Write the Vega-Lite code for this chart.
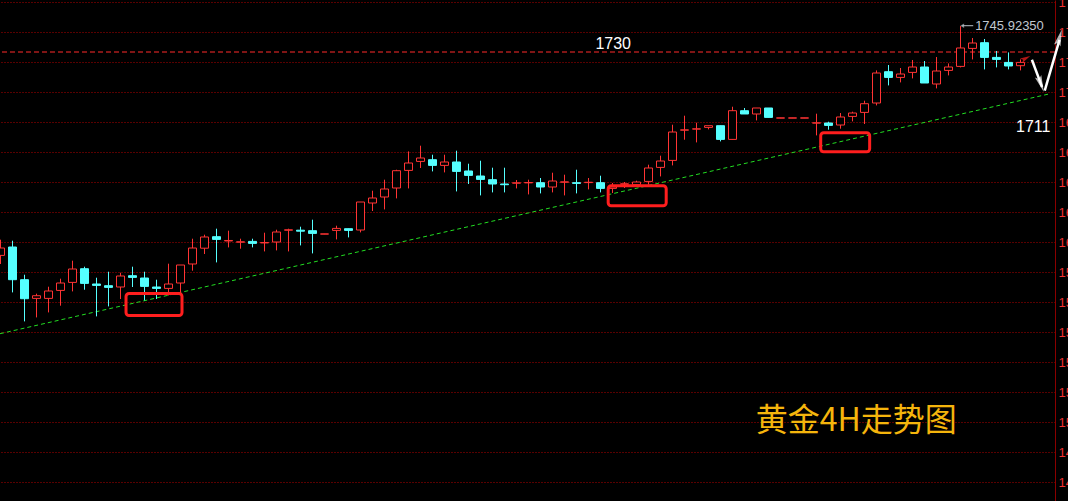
{
 "$schema": "https://vega.github.io/schema/vega-lite/v6.json",
 "width": 1055, "height": 501,
 "autosize": {"type": "none"},
 "padding": {"left": 0, "top": 0, "right": 13, "bottom": 0},
 "background": "#000000",
 "config": {"view": {"stroke": null}, "axis": {"title": null}, "scale": {"continuousPadding": 0}},
 "datasets": {
  "candles": [
   {"k":0,"o":1605.25,"c":1609.79,"h":1614.88,"l":1599.98,"d":"u"},
   {"k":1,"o":1610.40,"c":1590.35,"h":1614.27,"l":1582.56,"d":"d"},
   {"k":2,"o":1590.35,"c":1578.69,"h":1593.41,"l":1564.77,"d":"d"},
   {"k":3,"o":1578.88,"c":1580.53,"h":1581.76,"l":1567.22,"d":"u"},
   {"k":4,"o":1578.88,"c":1583.42,"h":1586.05,"l":1570.29,"d":"u"},
   {"k":5,"o":1583.78,"c":1588.32,"h":1590.96,"l":1574.40,"d":"u"},
   {"k":6,"o":1588.69,"c":1596.91,"h":1602.00,"l":1583.17,"d":"u"},
   {"k":7,"o":1597.09,"c":1588.08,"h":1598.32,"l":1584.21,"d":"d"},
   {"k":8,"o":1587.71,"c":1586.85,"h":1591.57,"l":1567.84,"d":"d"},
   {"k":9,"o":1586.67,"c":1585.63,"h":1595.25,"l":1573.97,"d":"d"},
   {"k":10,"o":1585.87,"c":1592.62,"h":1594.64,"l":1578.51,"d":"u"},
   {"k":11,"o":1592.80,"c":1591.76,"h":1598.32,"l":1585.87,"d":"d"},
   {"k":12,"o":1591.39,"c":1586.24,"h":1595.25,"l":1577.65,"d":"d"},
   {"k":13,"o":1585.87,"c":1585.01,"h":1590.35,"l":1578.51,"d":"d"},
   {"k":14,"o":1585.01,"c":1587.71,"h":1600.16,"l":1580.72,"d":"u"},
   {"k":15,"o":1588.32,"c":1599.36,"h":1599.36,"l":1582.19,"d":"u"},
   {"k":16,"o":1599.98,"c":1609.79,"h":1615.49,"l":1595.87,"d":"u"},
   {"k":17,"o":1609.67,"c":1616.54,"h":1617.95,"l":1606.11,"d":"u"},
   {"k":18,"o":1616.72,"c":1615.07,"h":1621.63,"l":1600.96,"d":"d"},
   {"k":19,"o":1614.10,"c":1614.40,"h":1620.40,"l":1610.16,"d":"u"},
   {"k":20,"o":1613.35,"c":1613.60,"h":1615.49,"l":1609.36,"d":"u"},
   {"k":21,"o":1613.84,"c":1612.61,"h":1615.49,"l":1610.16,"d":"d"},
   {"k":22,"o":1612.90,"c":1613.15,"h":1619.17,"l":1607.70,"d":"u"},
   {"k":23,"o":1613.47,"c":1619.60,"h":1621.01,"l":1608.32,"d":"u"},
   {"k":24,"o":1620.70,"c":1620.95,"h":1621.63,"l":1607.70,"d":"u"},
   {"k":25,"o":1620.71,"c":1620.10,"h":1622.85,"l":1611.38,"d":"d"},
   {"k":26,"o":1620.40,"c":1618.74,"h":1627.15,"l":1606.48,"d":"d"},
   {"k":27,"o":1618.30,"c":1618.45,"h":1618.45,"l":1618.30,"d":"u"},
   {"k":28,"o":1620.59,"c":1621.81,"h":1623.47,"l":1615.07,"d":"u"},
   {"k":29,"o":1621.63,"c":1620.59,"h":1621.63,"l":1616.29,"d":"d"},
   {"k":30,"o":1620.83,"c":1638.00,"h":1638.00,"l":1619.36,"d":"u"},
   {"k":31,"o":1637.39,"c":1640.46,"h":1644.93,"l":1632.48,"d":"u"},
   {"k":32,"o":1641.07,"c":1645.98,"h":1651.68,"l":1633.46,"d":"u"},
   {"k":33,"o":1646.59,"c":1657.20,"h":1657.81,"l":1640.21,"d":"u"},
   {"k":34,"o":1657.39,"c":1661.92,"h":1669.04,"l":1646.34,"d":"u"},
   {"k":35,"o":1662.90,"c":1664.99,"h":1672.53,"l":1658.86,"d":"u"},
   {"k":36,"o":1663.95,"c":1660.45,"h":1667.01,"l":1656.77,"d":"d"},
   {"k":37,"o":1660.45,"c":1662.54,"h":1667.01,"l":1656.16,"d":"u"},
   {"k":38,"o":1662.54,"c":1656.77,"h":1669.47,"l":1644.50,"d":"d"},
   {"k":39,"o":1657.02,"c":1654.32,"h":1661.49,"l":1649.04,"d":"d"},
   {"k":40,"o":1653.95,"c":1651.86,"h":1663.33,"l":1642.05,"d":"d"},
   {"k":41,"o":1651.68,"c":1649.04,"h":1659.04,"l":1643.89,"d":"d"},
   {"k":42,"o":1649.04,"c":1648.61,"h":1659.04,"l":1643.89,"d":"d"},
   {"k":43,"o":1649.55,"c":1649.75,"h":1651.50,"l":1646.34,"d":"u"},
   {"k":44,"o":1649.75,"c":1649.95,"h":1651.68,"l":1642.66,"d":"u"},
   {"k":45,"o":1649.84,"c":1647.20,"h":1652.72,"l":1643.28,"d":"d"},
   {"k":46,"o":1647.20,"c":1650.88,"h":1655.97,"l":1643.89,"d":"u"},
   {"k":47,"o":1650.15,"c":1650.35,"h":1654.75,"l":1642.05,"d":"u"},
   {"k":48,"o":1649.84,"c":1649.41,"h":1657.81,"l":1643.28,"d":"d"},
   {"k":49,"o":1649.90,"c":1650.10,"h":1652.72,"l":1645.73,"d":"u"},
   {"k":50,"o":1649.84,"c":1646.34,"h":1654.13,"l":1643.89,"d":"d"},
   {"k":51,"o":1646.34,"c":1647.20,"h":1649.66,"l":1643.52,"d":"u"},
   {"k":52,"o":1648.95,"c":1649.15,"h":1650.27,"l":1646.59,"d":"u"},
   {"k":53,"o":1648.61,"c":1650.27,"h":1651.07,"l":1647.20,"d":"u"},
   {"k":54,"o":1650.64,"c":1658.86,"h":1660.88,"l":1648.61,"d":"u"},
   {"k":55,"o":1659.23,"c":1663.15,"h":1666.40,"l":1653.70,"d":"u"},
   {"k":56,"o":1663.52,"c":1680.93,"h":1685.41,"l":1660.45,"d":"u"},
   {"k":57,"o":1682.05,"c":1682.25,"h":1690.93,"l":1676.21,"d":"u"},
   {"k":58,"o":1682.70,"c":1682.90,"h":1686.64,"l":1674.56,"d":"u"},
   {"k":59,"o":1683.76,"c":1684.80,"h":1684.80,"l":1682.53,"d":"u"},
   {"k":60,"o":1684.80,"c":1676.40,"h":1684.80,"l":1675.17,"d":"d"},
   {"k":61,"o":1676.40,"c":1694.00,"h":1696.45,"l":1676.40,"d":"u"},
   {"k":62,"o":1694.00,"c":1691.98,"h":1695.66,"l":1691.98,"d":"d"},
   {"k":63,"o":1691.98,"c":1695.66,"h":1695.66,"l":1688.05,"d":"u"},
   {"k":64,"o":1695.66,"c":1689.89,"h":1695.66,"l":1689.89,"d":"d"},
   {"k":65,"o":1689.45,"c":1689.60,"h":1689.60,"l":1689.45,"d":"u"},
   {"k":66,"o":1689.45,"c":1689.60,"h":1689.60,"l":1689.45,"d":"u"},
   {"k":67,"o":1689.45,"c":1689.60,"h":1689.60,"l":1689.45,"d":"u"},
   {"k":68,"o":1686.40,"c":1686.55,"h":1692.16,"l":1678.85,"d":"u"},
   {"k":69,"o":1686.46,"c":1684.98,"h":1687.25,"l":1682.35,"d":"d"},
   {"k":70,"o":1685.23,"c":1690.14,"h":1692.59,"l":1682.96,"d":"u"},
   {"k":71,"o":1690.50,"c":1692.59,"h":1693.39,"l":1687.44,"d":"u"},
   {"k":72,"o":1692.96,"c":1698.29,"h":1700.13,"l":1685.84,"d":"u"},
   {"k":73,"o":1698.72,"c":1717.12,"h":1718.72,"l":1697.25,"d":"u"},
   {"k":74,"o":1717.92,"c":1714.42,"h":1722.03,"l":1709.52,"d":"d"},
   {"k":75,"o":1714.42,"c":1716.51,"h":1720.19,"l":1711.36,"d":"u"},
   {"k":76,"o":1717.49,"c":1720.80,"h":1725.10,"l":1713.81,"d":"u"},
   {"k":77,"o":1720.80,"c":1710.99,"h":1724.48,"l":1710.99,"d":"d"},
   {"k":78,"o":1710.38,"c":1718.35,"h":1726.94,"l":1707.68,"d":"u"},
   {"k":79,"o":1718.72,"c":1720.80,"h":1723.01,"l":1715.65,"d":"u"},
   {"k":80,"o":1721.17,"c":1732.46,"h":1745.92,"l":1720.56,"d":"u"},
   {"k":81,"o":1732.21,"c":1735.52,"h":1738.59,"l":1725.46,"d":"u"},
   {"k":82,"o":1735.71,"c":1726.69,"h":1737.98,"l":1719.33,"d":"d"},
   {"k":83,"o":1726.69,"c":1725.46,"h":1730.62,"l":1720.56,"d":"d"},
   {"k":84,"o":1723.62,"c":1721.42,"h":1729.76,"l":1719.33,"d":"d"},
   {"k":85,"o":1721.60,"c":1723.62,"h":1725.46,"l":1718.72,"d":"u"}
  ],
  "trend": [{"k": -0.04, "p": 1557.23}, {"k": 87.475, "p": 1704.43}],
  "boxes": [
   {"k1": 10.46, "k2": 15.125, "p1": 1581.89, "p2": 1568.39},
   {"k1": 50.64, "k2": 55.475, "p1": 1648.00, "p2": 1635.73},
   {"k1": 68.35, "k2": 72.43, "p1": 1680.51, "p2": 1668.85}
  ],
  "level": [{"p": 1730}],
  "notes": [
   {"name": "lvl", "k": 51.06, "p": 1735.09, "t": "1730"},
   {"name": "tgt", "k": 86.06, "p": 1684.19, "t": "1711"},
   {"name": "hi", "k": 81.22, "p": 1746.13, "t": "1745.92350"},
   {"name": "title", "k": 71.31, "p": 1503.87, "t": "黄金4H走势图"}
  ],
  "hiArrow": [{"k1": 80.14, "k2": 81.06, "p": 1746.13}],
  "arrows": [
   {"g": "down", "k": 85.95, "p": 1725.28},
   {"g": "down", "k": 86.80, "p": 1708.5},
   {"g": "up", "k": 87.02, "p": 1706.27},
   {"g": "up", "k": 88.25, "p": 1737.5}
  ],
  "heads": [
   {"g": "down", "k": 86.66, "p": 1711.2},
   {"g": "up", "k": 88.22, "p": 1738.0},
   {"g": "red", "k": 85.39, "p": 1725.89}
  ]
 },
 "layer": [
  {
   "data": {"name": "trend"},
   "mark": {"type": "line", "stroke": "#22dd22", "strokeWidth": 1, "strokeDash": [4, 3]},
   "encoding": {
    "x": {"field": "k", "type": "quantitative", "scale": {"domain": [-0.04167, 87.875], "nice": false, "zero": false, "padding": 0}, "axis": null},
    "y": {"field": "p", "type": "quantitative", "scale": {"domain": [1454.617, 1761.897], "nice": false, "zero": false, "padding": 0},
     "axis": {"orient": "right", "values": [1760.67,1742.27,1723.87,1705.47,1687.07,1668.67,1650.27,1631.87,1613.47,1595.07,1576.67,1558.27,1539.87,1521.47,1503.07,1484.67,1466.27],
      "tickCount": 30,
      "format": ".2f", "grid": true, "gridColor": "#b00000", "gridDash": [1, 2], "gridWidth": 1,
      "domain": true, "domainColor": "#8a0000", "domainWidth": 1, "ticks": false,
      "labelColor": "#f03030", "labelFont": "Liberation Sans", "labelFontSize": 13, "labelPadding": 3,
      "labelAlign": "left", "labelBaseline": "middle", "labelOverlap": false, "labelBound": false, "labelFlush": false}}
   }
  },
  {
   "data": {"name": "level"},
   "mark": {"type": "rule", "stroke": "#ff2a2a", "strokeWidth": 1, "strokeDash": [5, 3]},
   "encoding": {
    "y": {"field": "p", "type": "quantitative", "scale": {"domain": [1454.617, 1761.897], "nice": false, "zero": false, "padding": 0}}
   }
  },
  {
   "data": {"name": "candles"},
   "mark": {"type": "rule", "strokeWidth": 1},
   "encoding": {
    "x": {"field": "k", "type": "quantitative", "scale": {"domain": [-0.04167, 87.875], "nice": false, "zero": false, "padding": 0}},
    "y": {"field": "l", "type": "quantitative", "scale": {"domain": [1454.617, 1761.897], "nice": false, "zero": false, "padding": 0}},
    "y2": {"field": "h"},
    "color": {"field": "d", "type": "nominal", "scale": {"domain": ["u", "d"], "range": ["#ff3434", "#55ffff"]}, "legend": null}
   }
  },
  {
   "data": {"name": "candles"},
   "mark": {"type": "bar", "width": 8, "strokeWidth": 1},
   "encoding": {
    "x": {"field": "k", "type": "quantitative", "scale": {"domain": [-0.04167, 87.875], "nice": false, "zero": false, "padding": 0}},
    "y": {"field": "o", "type": "quantitative", "scale": {"domain": [1454.617, 1761.897], "nice": false, "zero": false, "padding": 0}},
    "y2": {"field": "c"},
    "stroke": {"field": "d", "type": "nominal", "scale": {"domain": ["u", "d"], "range": ["#ff3434", "#55ffff"]}, "legend": null},
    "fill": {"field": "d", "type": "nominal", "scale": {"domain": ["u", "d"], "range": ["#000000", "#55ffff"]}, "legend": null}
   }
  },
  {
   "data": {"name": "boxes"},
   "mark": {"type": "rect", "fill": "transparent", "stroke": "#ff1e1e", "strokeWidth": 3, "cornerRadius": 3},
   "encoding": {
    "x": {"field": "k1", "type": "quantitative", "scale": {"domain": [-0.04167, 87.875], "nice": false, "zero": false, "padding": 0}},
    "x2": {"field": "k2"},
    "y": {"field": "p1", "type": "quantitative", "scale": {"domain": [1454.617, 1761.897], "nice": false, "zero": false, "padding": 0}},
    "y2": {"field": "p2"}
   }
  },
  {
   "data": {"name": "hiArrow"},
   "mark": {"type": "rule", "stroke": "#b8c0c8", "strokeWidth": 1},
   "encoding": {
    "x": {"field": "k1", "type": "quantitative", "scale": {"domain": [-0.04167, 87.875], "nice": false, "zero": false, "padding": 0}},
    "x2": {"field": "k2"},
    "y": {"field": "p", "type": "quantitative", "scale": {"domain": [1454.617, 1761.897], "nice": false, "zero": false, "padding": 0}}
   }
  },
  {
   "data": {"name": "hiArrow"},
   "mark": {"type": "point", "shape": "triangle-left", "filled": true, "fill": "#b8c0c8", "size": 20, "strokeWidth": 0},
   "encoding": {
    "x": {"field": "k1", "type": "quantitative", "scale": {"domain": [-0.04167, 87.875], "nice": false, "zero": false, "padding": 0}},
    "y": {"field": "p", "type": "quantitative", "scale": {"domain": [1454.617, 1761.897], "nice": false, "zero": false, "padding": 0}}
   }
  },
  {
   "data": {"name": "notes"},
   "transform": [{"filter": "datum.name === 'hi'"}],
   "mark": {"type": "text", "align": "left", "baseline": "middle", "font": "Liberation Sans", "fontSize": 13, "fill": "#c0c8d0"},
   "encoding": {
    "x": {"field": "k", "type": "quantitative", "scale": {"domain": [-0.04167, 87.875], "nice": false, "zero": false, "padding": 0}},
    "y": {"field": "p", "type": "quantitative", "scale": {"domain": [1454.617, 1761.897], "nice": false, "zero": false, "padding": 0}},
    "text": {"field": "t"}
   }
  },
  {
   "data": {"name": "notes"},
   "transform": [{"filter": "datum.name === 'lvl' || datum.name === 'tgt'"}],
   "mark": {"type": "text", "align": "center", "baseline": "middle", "font": "Liberation Sans", "fontSize": 16, "fill": "#ffffff"},
   "encoding": {
    "x": {"field": "k", "type": "quantitative", "scale": {"domain": [-0.04167, 87.875], "nice": false, "zero": false, "padding": 0}},
    "y": {"field": "p", "type": "quantitative", "scale": {"domain": [1454.617, 1761.897], "nice": false, "zero": false, "padding": 0}},
    "text": {"field": "t"}
   }
  },
  {
   "data": {"name": "notes"},
   "transform": [{"filter": "datum.name === 'title'"}],
   "mark": {"type": "text", "align": "center", "baseline": "middle", "font": "Noto Sans CJK SC", "fontSize": 32, "fill": "#f5b50c"},
   "encoding": {
    "x": {"field": "k", "type": "quantitative", "scale": {"domain": [-0.04167, 87.875], "nice": false, "zero": false, "padding": 0}},
    "y": {"field": "p", "type": "quantitative", "scale": {"domain": [1454.617, 1761.897], "nice": false, "zero": false, "padding": 0}},
    "text": {"field": "t"}
   }
  },
  {
   "data": {"name": "arrows"},
   "mark": {"type": "line", "stroke": "#ffffff", "strokeWidth": 2.5},
   "encoding": {
    "x": {"field": "k", "type": "quantitative", "scale": {"domain": [-0.04167, 87.875], "nice": false, "zero": false, "padding": 0}},
    "y": {"field": "p", "type": "quantitative", "scale": {"domain": [1454.617, 1761.897], "nice": false, "zero": false, "padding": 0}},
    "detail": {"field": "g"}
   }
  },
  {
   "data": {"name": "heads"},
   "transform": [{"filter": "datum.g === 'down'"}],
   "mark": {"type": "point", "shape": "M0,1L-0.35,-0.7L0,-0.4L0.35,-0.7Z", "filled": true, "fill": "#ffffff", "size": 380, "angle": -20, "strokeWidth": 0},
   "encoding": {
    "x": {"field": "k", "type": "quantitative", "scale": {"domain": [-0.04167, 87.875], "nice": false, "zero": false, "padding": 0}},
    "y": {"field": "p", "type": "quantitative", "scale": {"domain": [1454.617, 1761.897], "nice": false, "zero": false, "padding": 0}}
   }
  },
  {
   "data": {"name": "heads"},
   "transform": [{"filter": "datum.g === 'up'"}],
   "mark": {"type": "point", "shape": "M0,1L-0.35,-0.7L0,-0.4L0.35,-0.7Z", "filled": true, "fill": "#ffffff", "size": 380, "angle": 196, "strokeWidth": 0},
   "encoding": {
    "x": {"field": "k", "type": "quantitative", "scale": {"domain": [-0.04167, 87.875], "nice": false, "zero": false, "padding": 0}},
    "y": {"field": "p", "type": "quantitative", "scale": {"domain": [1454.617, 1761.897], "nice": false, "zero": false, "padding": 0}}
   }
  },
  {
   "data": {"name": "heads"},
   "transform": [{"filter": "datum.g === 'red'"}],
   "mark": {"type": "point", "shape": "M0,1L-0.45,-0.8L0,-0.4L0.45,-0.8Z", "filled": true, "fill": "#ff2020", "size": 130, "angle": 243, "strokeWidth": 0},
   "encoding": {
    "x": {"field": "k", "type": "quantitative", "scale": {"domain": [-0.04167, 87.875], "nice": false, "zero": false, "padding": 0}},
    "y": {"field": "p", "type": "quantitative", "scale": {"domain": [1454.617, 1761.897], "nice": false, "zero": false, "padding": 0}}
   }
  }
 ]
}
